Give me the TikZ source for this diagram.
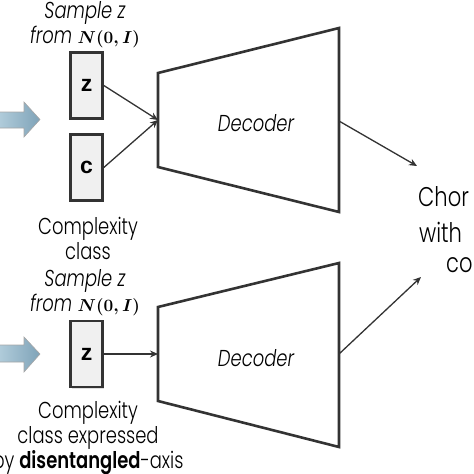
\documentclass[tikz,border=0pt]{standalone}
\usepackage{fontspec}
\setmainfont{Poppins}[UprightFont=* Light, ItalicFont=* Light Italic, BoldFont=* SemiBold, FakeStretch=0.78]
\newfontfamily\arialfont{Liberation Sans}
\usetikzlibrary{arrows.meta,shadows}
\definecolor{linecol}{HTML}{333333}
\definecolor{boxfill}{HTML}{F0F0F0}
\definecolor{blueL}{HTML}{B5D0DE}
\definecolor{blueD}{HTML}{7FA3B8}
\tikzset{
  vecbox/.style={draw=linecol, line width=2.6pt, fill=boxfill, minimum width=32pt, minimum height=66pt, inner sep=0pt, font=\arialfont\bfseries\fontsize{23}{23}\selectfont, drop shadow={shadow xshift=1.5pt, shadow yshift=-1.5pt, opacity=0.25}},
  dec/.style={draw=linecol, line width=2.6pt, line join=miter},
  conn/.style={draw=linecol, line width=1.3pt, -{Stealth[length=8pt,width=7pt]}},
  lbl/.style={align=center, font=\fontsize{23}{25}\selectfont, inner sep=0pt},
  ilbl/.style={align=center, font=\itshape\fontsize{23}{25}\selectfont, inner sep=0pt},
  biglbl/.style={align=left, font=\fontsize{27}{30}\selectfont, inner sep=0pt},
  bigarrow/.style={draw=gray!70, line width=0.6pt, left color=blueL, right color=blueD},
}
\newcommand{\normdist}{{\upshape\fontsize{18}{25}\selectfont\boldmath$N(0,I)$}}
\begin{document}
\begin{tikzpicture}[x=1pt,y=-1pt]
\useasboundingbox (0,0) rectangle (474,474);
% ---------- top row ----------
\path[bigarrow] (-5,112) -- (24,112) -- (24,102) -- (40,119.5) -- (24,137) -- (24,128) -- (-5,128) -- cycle;
\node[ilbl] (s1) at (85,25) {Sample z\\from \normdist};
\node[vecbox] (z1) at (86.5,85.5) {z};
\node[vecbox] (c1) at (86.5,167.5) {c};
\node[lbl] (cc1) at (88,238) {Complexity\\class};
\path[dec] (158,73) -- (339,28) -- (339,212) -- (158,167) -- cycle;
\node[ilbl] (d1) at (256,123) {Decoder};
\coordinate (d1in) at (158,120);
\coordinate (d1out) at (339,121);
\coordinate (o1) at (417,166);
\draw[conn] (z1.east) -- (d1in);
\draw[conn] (c1.east) -- (d1in);
\draw[conn] (d1out) -- (o1);
% ---------- bottom row ----------
\path[bigarrow] (-5,345) -- (24,345) -- (24,337) -- (40,354) -- (24,372) -- (24,362) -- (-5,362) -- cycle;
\node[ilbl] (s2) at (85,293) {Sample z\\from \normdist};
\node[vecbox] (z2) at (86.5,354) {z};
\node[lbl] (cc2) at (88,438) {Complexity\\class expressed\\by \textbf{disentangled}-axis};
\path[dec] (158,307) -- (339,263) -- (339,447) -- (158,401) -- cycle;
\node[ilbl] (d2) at (256,358) {Decoder};
\coordinate (d2in) at (158,354);
\coordinate (d2out) at (339,354);
\coordinate (o2) at (421,277);
\draw[conn] (z2.east) -- (d2in);
\draw[conn] (d2out) -- (o2);
% ---------- right text (cut at edge) ----------
\node[biglbl, anchor=west] (t1) at (418,197) {Chor};
\node[biglbl, anchor=west] (t2) at (419,232) {with};
\node[biglbl, anchor=west] (t3) at (446,265) {co};
\end{tikzpicture}
\end{document}
